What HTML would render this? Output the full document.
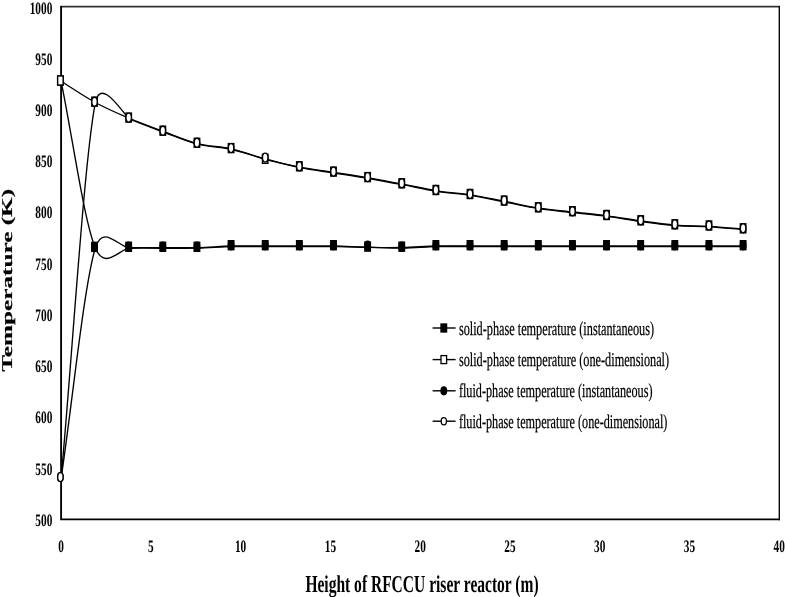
<!DOCTYPE html>
<html><head><meta charset="utf-8"><title>Temperature vs Height of RFCCU riser reactor</title>
<style>html,body{margin:0;padding:0;background:#fff;overflow:hidden}svg{display:block}</style></head>
<body>
<svg width="785" height="597" viewBox="0 0 785 597" text-rendering="geometricPrecision">
<rect width="785" height="597" fill="#fff"/>
<path d="M60.4 6.7H779.9" fill="none" stroke="#333" stroke-width="1.7"/>
<path d="M779.3 6V520.3" fill="none" stroke="#000" stroke-width="1.35"/>
<path d="M61.1 6.1V519.4H780" fill="none" stroke="#000" stroke-width="1.85"/>
<path transform="translate(0.7 0.8)" d="M60.40 80.50 C71.78 135.97 83.16 219.18 94.53 246.90 C103.85 269.60 117.67 249.80 128.67 246.80 C140.05 246.78 151.43 246.80 162.81 246.80 C174.18 246.80 185.56 247.07 196.94 246.80 C208.32 246.53 219.70 245.47 231.07 245.20 C242.45 244.93 253.83 245.20 265.21 245.20 C276.59 245.20 287.97 245.20 299.34 245.20 C310.72 245.20 322.10 244.97 333.48 245.20 C344.86 245.43 356.24 246.35 367.61 246.60 C378.99 246.85 390.37 246.93 401.75 246.70 C413.13 246.47 424.51 245.45 435.88 245.20 C447.26 244.95 458.64 245.20 470.02 245.20 C481.40 245.20 492.78 245.20 504.15 245.20 C515.53 245.20 526.91 245.20 538.29 245.20 C549.67 245.20 561.05 245.20 572.42 245.20 C583.80 245.20 595.18 245.20 606.56 245.20 C617.94 245.20 629.32 245.20 640.69 245.20 C652.07 245.20 663.45 245.20 674.83 245.20 C686.21 245.20 697.59 245.20 708.96 245.20 C720.34 245.20 731.72 245.20 743.10 245.20" fill="none" stroke="#000" stroke-width="1.35" stroke-linejoin="round"/>
<path transform="translate(0.7 0.8)" d="M60.40 80.50 C71.78 87.57 83.16 95.52 94.53 101.70 C105.91 107.88 117.29 112.77 128.67 117.60 C140.05 122.43 151.43 126.50 162.81 130.70 C174.18 134.90 185.56 139.90 196.94 142.80 C208.32 145.70 219.70 145.43 231.07 148.10 C242.45 150.77 253.83 155.77 265.21 158.80 C276.59 161.83 287.97 164.17 299.34 166.30 C310.72 168.43 322.10 169.80 333.48 171.60 C344.86 173.40 356.24 175.15 367.61 177.10 C378.99 179.05 390.37 181.15 401.75 183.30 C413.13 185.45 424.51 188.22 435.88 190.00 C447.26 191.78 458.64 192.23 470.02 194.00 C481.40 195.77 492.78 198.38 504.15 200.60 C515.53 202.82 526.91 205.53 538.29 207.30 C549.67 209.07 561.05 209.92 572.42 211.20 C583.80 212.48 595.18 213.48 606.56 215.00 C617.94 216.52 629.32 218.75 640.69 220.30 C652.07 221.85 663.45 223.43 674.83 224.30 C686.21 225.17 697.59 224.83 708.96 225.50 C720.34 226.17 731.72 227.37 743.10 228.30" fill="none" stroke="#000" stroke-width="1.35" stroke-linejoin="round"/>
<path transform="translate(0.7 1.4)" d="M60.40 477.10 C71.78 400.37 83.16 285.28 94.53 246.90 C101.80 222.39 116.67 244.30 128.67 246.80 C140.05 246.78 151.43 246.80 162.81 246.80 C174.18 246.80 185.56 247.07 196.94 246.80 C208.32 246.53 219.70 245.47 231.07 245.20 C242.45 244.93 253.83 245.20 265.21 245.20 C276.59 245.20 287.97 245.20 299.34 245.20 C310.72 245.20 322.10 245.12 333.48 245.20 C344.86 245.28 356.24 245.45 367.61 245.70 C378.99 245.95 390.37 246.78 401.75 246.70 C413.13 246.62 424.51 245.45 435.88 245.20 C447.26 244.95 458.64 245.20 470.02 245.20 C481.40 245.20 492.78 245.20 504.15 245.20 C515.53 245.20 526.91 245.20 538.29 245.20 C549.67 245.20 561.05 245.20 572.42 245.20 C583.80 245.20 595.18 245.20 606.56 245.20 C617.94 245.20 629.32 245.20 640.69 245.20 C652.07 245.20 663.45 245.20 674.83 245.20 C686.21 245.20 697.59 245.20 708.96 245.20 C720.34 245.20 731.72 245.20 743.10 245.20" fill="none" stroke="#000" stroke-width="1.35" stroke-linejoin="round"/>
<path transform="translate(0.7 1.4)" d="M60.40 477.10 C71.78 351.97 83.16 161.62 94.53 101.70 C99.67 74.67 121.67 111.10 128.67 117.60 C140.05 122.43 151.43 126.50 162.81 130.70 C174.18 134.90 185.56 139.90 196.94 142.80 C208.32 145.70 219.70 145.63 231.07 148.10 C242.45 150.57 253.83 154.57 265.21 157.60 C276.59 160.63 287.97 163.97 299.34 166.30 C310.72 168.63 322.10 169.80 333.48 171.60 C344.86 173.40 356.24 175.15 367.61 177.10 C378.99 179.05 390.37 181.15 401.75 183.30 C413.13 185.45 424.51 188.22 435.88 190.00 C447.26 191.78 458.64 192.23 470.02 194.00 C481.40 195.77 492.78 198.38 504.15 200.60 C515.53 202.82 526.91 205.53 538.29 207.30 C549.67 209.07 561.05 209.92 572.42 211.20 C583.80 212.48 595.18 213.48 606.56 215.00 C617.94 216.52 629.32 218.75 640.69 220.30 C652.07 221.85 663.45 223.43 674.83 224.30 C686.21 225.17 697.59 224.83 708.96 225.50 C720.34 226.17 731.72 227.37 743.10 228.30" fill="none" stroke="#000" stroke-width="1.35" stroke-linejoin="round"/>
<rect x="57.65" y="76.00" width="5.50" height="9.00" fill="#000" stroke="#000" stroke-width="1.4"/>
<rect x="91.78" y="242.40" width="5.50" height="9.00" fill="#000" stroke="#000" stroke-width="1.4"/>
<rect x="125.92" y="242.30" width="5.50" height="9.00" fill="#000" stroke="#000" stroke-width="1.4"/>
<rect x="160.06" y="242.30" width="5.50" height="9.00" fill="#000" stroke="#000" stroke-width="1.4"/>
<rect x="194.19" y="242.30" width="5.50" height="9.00" fill="#000" stroke="#000" stroke-width="1.4"/>
<rect x="228.32" y="240.70" width="5.50" height="9.00" fill="#000" stroke="#000" stroke-width="1.4"/>
<rect x="262.46" y="240.70" width="5.50" height="9.00" fill="#000" stroke="#000" stroke-width="1.4"/>
<rect x="296.59" y="240.70" width="5.50" height="9.00" fill="#000" stroke="#000" stroke-width="1.4"/>
<rect x="330.73" y="240.70" width="5.50" height="9.00" fill="#000" stroke="#000" stroke-width="1.4"/>
<rect x="364.86" y="242.10" width="5.50" height="9.00" fill="#000" stroke="#000" stroke-width="1.4"/>
<rect x="399.00" y="242.20" width="5.50" height="9.00" fill="#000" stroke="#000" stroke-width="1.4"/>
<rect x="433.13" y="240.70" width="5.50" height="9.00" fill="#000" stroke="#000" stroke-width="1.4"/>
<rect x="467.27" y="240.70" width="5.50" height="9.00" fill="#000" stroke="#000" stroke-width="1.4"/>
<rect x="501.40" y="240.70" width="5.50" height="9.00" fill="#000" stroke="#000" stroke-width="1.4"/>
<rect x="535.54" y="240.70" width="5.50" height="9.00" fill="#000" stroke="#000" stroke-width="1.4"/>
<rect x="569.67" y="240.70" width="5.50" height="9.00" fill="#000" stroke="#000" stroke-width="1.4"/>
<rect x="603.81" y="240.70" width="5.50" height="9.00" fill="#000" stroke="#000" stroke-width="1.4"/>
<rect x="637.94" y="240.70" width="5.50" height="9.00" fill="#000" stroke="#000" stroke-width="1.4"/>
<rect x="672.08" y="240.70" width="5.50" height="9.00" fill="#000" stroke="#000" stroke-width="1.4"/>
<rect x="706.21" y="240.70" width="5.50" height="9.00" fill="#000" stroke="#000" stroke-width="1.4"/>
<rect x="740.35" y="240.70" width="5.50" height="9.00" fill="#000" stroke="#000" stroke-width="1.4"/>
<rect x="57.65" y="76.00" width="5.50" height="9.00" fill="#fff" stroke="#000" stroke-width="1.4"/>
<rect x="91.78" y="97.20" width="5.50" height="9.00" fill="#fff" stroke="#000" stroke-width="1.4"/>
<rect x="125.92" y="113.10" width="5.50" height="9.00" fill="#fff" stroke="#000" stroke-width="1.4"/>
<rect x="160.06" y="126.20" width="5.50" height="9.00" fill="#fff" stroke="#000" stroke-width="1.4"/>
<rect x="194.19" y="138.30" width="5.50" height="9.00" fill="#fff" stroke="#000" stroke-width="1.4"/>
<rect x="228.32" y="143.60" width="5.50" height="9.00" fill="#fff" stroke="#000" stroke-width="1.4"/>
<rect x="262.46" y="154.30" width="5.50" height="9.00" fill="#fff" stroke="#000" stroke-width="1.4"/>
<rect x="296.59" y="161.80" width="5.50" height="9.00" fill="#fff" stroke="#000" stroke-width="1.4"/>
<rect x="330.73" y="167.10" width="5.50" height="9.00" fill="#fff" stroke="#000" stroke-width="1.4"/>
<rect x="364.86" y="172.60" width="5.50" height="9.00" fill="#fff" stroke="#000" stroke-width="1.4"/>
<rect x="399.00" y="178.80" width="5.50" height="9.00" fill="#fff" stroke="#000" stroke-width="1.4"/>
<rect x="433.13" y="185.50" width="5.50" height="9.00" fill="#fff" stroke="#000" stroke-width="1.4"/>
<rect x="467.27" y="189.50" width="5.50" height="9.00" fill="#fff" stroke="#000" stroke-width="1.4"/>
<rect x="501.40" y="196.10" width="5.50" height="9.00" fill="#fff" stroke="#000" stroke-width="1.4"/>
<rect x="535.54" y="202.80" width="5.50" height="9.00" fill="#fff" stroke="#000" stroke-width="1.4"/>
<rect x="569.67" y="206.70" width="5.50" height="9.00" fill="#fff" stroke="#000" stroke-width="1.4"/>
<rect x="603.81" y="210.50" width="5.50" height="9.00" fill="#fff" stroke="#000" stroke-width="1.4"/>
<rect x="637.94" y="215.80" width="5.50" height="9.00" fill="#fff" stroke="#000" stroke-width="1.4"/>
<rect x="672.08" y="219.80" width="5.50" height="9.00" fill="#fff" stroke="#000" stroke-width="1.4"/>
<rect x="706.21" y="221.00" width="5.50" height="9.00" fill="#fff" stroke="#000" stroke-width="1.4"/>
<rect x="740.35" y="223.80" width="5.50" height="9.00" fill="#fff" stroke="#000" stroke-width="1.4"/>
<ellipse cx="60.40" cy="477.10" rx="2.75" ry="4.50" fill="#000" stroke="#000" stroke-width="1.4"/>
<ellipse cx="94.53" cy="246.90" rx="2.75" ry="4.50" fill="#000" stroke="#000" stroke-width="1.4"/>
<ellipse cx="128.67" cy="246.80" rx="2.75" ry="4.50" fill="#000" stroke="#000" stroke-width="1.4"/>
<ellipse cx="162.81" cy="246.80" rx="2.75" ry="4.50" fill="#000" stroke="#000" stroke-width="1.4"/>
<ellipse cx="196.94" cy="246.80" rx="2.75" ry="4.50" fill="#000" stroke="#000" stroke-width="1.4"/>
<ellipse cx="231.07" cy="245.20" rx="2.75" ry="4.50" fill="#000" stroke="#000" stroke-width="1.4"/>
<ellipse cx="265.21" cy="245.20" rx="2.75" ry="4.50" fill="#000" stroke="#000" stroke-width="1.4"/>
<ellipse cx="299.34" cy="245.20" rx="2.75" ry="4.50" fill="#000" stroke="#000" stroke-width="1.4"/>
<ellipse cx="333.48" cy="245.20" rx="2.75" ry="4.50" fill="#000" stroke="#000" stroke-width="1.4"/>
<ellipse cx="367.61" cy="245.70" rx="2.75" ry="4.50" fill="#000" stroke="#000" stroke-width="1.4"/>
<ellipse cx="401.75" cy="246.70" rx="2.75" ry="4.50" fill="#000" stroke="#000" stroke-width="1.4"/>
<ellipse cx="435.88" cy="245.20" rx="2.75" ry="4.50" fill="#000" stroke="#000" stroke-width="1.4"/>
<ellipse cx="470.02" cy="245.20" rx="2.75" ry="4.50" fill="#000" stroke="#000" stroke-width="1.4"/>
<ellipse cx="504.15" cy="245.20" rx="2.75" ry="4.50" fill="#000" stroke="#000" stroke-width="1.4"/>
<ellipse cx="538.29" cy="245.20" rx="2.75" ry="4.50" fill="#000" stroke="#000" stroke-width="1.4"/>
<ellipse cx="572.42" cy="245.20" rx="2.75" ry="4.50" fill="#000" stroke="#000" stroke-width="1.4"/>
<ellipse cx="606.56" cy="245.20" rx="2.75" ry="4.50" fill="#000" stroke="#000" stroke-width="1.4"/>
<ellipse cx="640.69" cy="245.20" rx="2.75" ry="4.50" fill="#000" stroke="#000" stroke-width="1.4"/>
<ellipse cx="674.83" cy="245.20" rx="2.75" ry="4.50" fill="#000" stroke="#000" stroke-width="1.4"/>
<ellipse cx="708.96" cy="245.20" rx="2.75" ry="4.50" fill="#000" stroke="#000" stroke-width="1.4"/>
<ellipse cx="743.10" cy="245.20" rx="2.75" ry="4.50" fill="#000" stroke="#000" stroke-width="1.4"/>
<ellipse cx="60.40" cy="477.10" rx="2.75" ry="4.50" fill="#fff" stroke="#000" stroke-width="1.4"/>
<ellipse cx="94.53" cy="101.70" rx="2.75" ry="4.50" fill="#fff" stroke="#000" stroke-width="1.4"/>
<ellipse cx="128.67" cy="117.60" rx="2.75" ry="4.50" fill="#fff" stroke="#000" stroke-width="1.4"/>
<ellipse cx="162.81" cy="130.70" rx="2.75" ry="4.50" fill="#fff" stroke="#000" stroke-width="1.4"/>
<ellipse cx="196.94" cy="142.80" rx="2.75" ry="4.50" fill="#fff" stroke="#000" stroke-width="1.4"/>
<ellipse cx="231.07" cy="148.10" rx="2.75" ry="4.50" fill="#fff" stroke="#000" stroke-width="1.4"/>
<ellipse cx="265.21" cy="157.60" rx="2.75" ry="4.50" fill="#fff" stroke="#000" stroke-width="1.4"/>
<ellipse cx="299.34" cy="166.30" rx="2.75" ry="4.50" fill="#fff" stroke="#000" stroke-width="1.4"/>
<ellipse cx="333.48" cy="171.60" rx="2.75" ry="4.50" fill="#fff" stroke="#000" stroke-width="1.4"/>
<ellipse cx="367.61" cy="177.10" rx="2.75" ry="4.50" fill="#fff" stroke="#000" stroke-width="1.4"/>
<ellipse cx="401.75" cy="183.30" rx="2.75" ry="4.50" fill="#fff" stroke="#000" stroke-width="1.4"/>
<ellipse cx="435.88" cy="190.00" rx="2.75" ry="4.50" fill="#fff" stroke="#000" stroke-width="1.4"/>
<ellipse cx="470.02" cy="194.00" rx="2.75" ry="4.50" fill="#fff" stroke="#000" stroke-width="1.4"/>
<ellipse cx="504.15" cy="200.60" rx="2.75" ry="4.50" fill="#fff" stroke="#000" stroke-width="1.4"/>
<ellipse cx="538.29" cy="207.30" rx="2.75" ry="4.50" fill="#fff" stroke="#000" stroke-width="1.4"/>
<ellipse cx="572.42" cy="211.20" rx="2.75" ry="4.50" fill="#fff" stroke="#000" stroke-width="1.4"/>
<ellipse cx="606.56" cy="215.00" rx="2.75" ry="4.50" fill="#fff" stroke="#000" stroke-width="1.4"/>
<ellipse cx="640.69" cy="220.30" rx="2.75" ry="4.50" fill="#fff" stroke="#000" stroke-width="1.4"/>
<ellipse cx="674.83" cy="224.30" rx="2.75" ry="4.50" fill="#fff" stroke="#000" stroke-width="1.4"/>
<ellipse cx="708.96" cy="225.50" rx="2.75" ry="4.50" fill="#fff" stroke="#000" stroke-width="1.4"/>
<ellipse cx="743.10" cy="228.30" rx="2.75" ry="4.50" fill="#fff" stroke="#000" stroke-width="1.4"/>
<text transform="translate(52.3 525.9) scale(0.642 1)" text-anchor="end" font-family="Liberation Serif, serif" font-weight="bold" font-size="17.6">500</text>
<text transform="translate(52.3 474.6) scale(0.642 1)" text-anchor="end" font-family="Liberation Serif, serif" font-weight="bold" font-size="17.6">550</text>
<text transform="translate(52.3 423.4) scale(0.642 1)" text-anchor="end" font-family="Liberation Serif, serif" font-weight="bold" font-size="17.6">600</text>
<text transform="translate(52.3 372.1) scale(0.642 1)" text-anchor="end" font-family="Liberation Serif, serif" font-weight="bold" font-size="17.6">650</text>
<text transform="translate(52.3 320.8) scale(0.642 1)" text-anchor="end" font-family="Liberation Serif, serif" font-weight="bold" font-size="17.6">700</text>
<text transform="translate(52.3 269.5) scale(0.642 1)" text-anchor="end" font-family="Liberation Serif, serif" font-weight="bold" font-size="17.6">750</text>
<text transform="translate(52.3 218.3) scale(0.642 1)" text-anchor="end" font-family="Liberation Serif, serif" font-weight="bold" font-size="17.6">800</text>
<text transform="translate(52.3 167.0) scale(0.642 1)" text-anchor="end" font-family="Liberation Serif, serif" font-weight="bold" font-size="17.6">850</text>
<text transform="translate(52.3 115.7) scale(0.642 1)" text-anchor="end" font-family="Liberation Serif, serif" font-weight="bold" font-size="17.6">900</text>
<text transform="translate(52.3 64.5) scale(0.642 1)" text-anchor="end" font-family="Liberation Serif, serif" font-weight="bold" font-size="17.6">950</text>
<text transform="translate(52.3 14.1) scale(0.642 1)" text-anchor="end" font-family="Liberation Serif, serif" font-weight="bold" font-size="17.6">1000</text>
<text transform="translate(61.1 551.6) scale(0.642 1)" text-anchor="middle" font-family="Liberation Serif, serif" font-weight="bold" font-size="17.6">0</text>
<text transform="translate(150.9 551.6) scale(0.642 1)" text-anchor="middle" font-family="Liberation Serif, serif" font-weight="bold" font-size="17.6">5</text>
<text transform="translate(240.6 551.6) scale(0.642 1)" text-anchor="middle" font-family="Liberation Serif, serif" font-weight="bold" font-size="17.6">10</text>
<text transform="translate(330.4 551.6) scale(0.642 1)" text-anchor="middle" font-family="Liberation Serif, serif" font-weight="bold" font-size="17.6">15</text>
<text transform="translate(420.2 551.6) scale(0.642 1)" text-anchor="middle" font-family="Liberation Serif, serif" font-weight="bold" font-size="17.6">20</text>
<text transform="translate(509.9 551.6) scale(0.642 1)" text-anchor="middle" font-family="Liberation Serif, serif" font-weight="bold" font-size="17.6">25</text>
<text transform="translate(599.7 551.6) scale(0.642 1)" text-anchor="middle" font-family="Liberation Serif, serif" font-weight="bold" font-size="17.6">30</text>
<text transform="translate(689.4 551.6) scale(0.642 1)" text-anchor="middle" font-family="Liberation Serif, serif" font-weight="bold" font-size="17.6">35</text>
<text transform="translate(779.2 551.6) scale(0.642 1)" text-anchor="middle" font-family="Liberation Serif, serif" font-weight="bold" font-size="17.6">40</text>
<text transform="translate(422.0 591.8) scale(0.639 1)" text-anchor="middle" font-family="Liberation Serif, serif" font-weight="bold" font-size="24.3">Height of RFCCU riser reactor (m)</text>
<text transform="translate(12.0 280.3) rotate(-90) scale(1.008 0.60)" text-anchor="middle" font-family="Liberation Serif, serif" font-weight="bold" font-size="25" stroke="#000" stroke-width="0.3">Temperature (K)</text>
<line x1="432.6" x2="455.6" y1="328.0" y2="328.0" stroke="#000" stroke-width="1.4"/>
<rect x="441.00" y="324.00" width="5.60" height="8.00" fill="#000" stroke="#000" stroke-width="1.3"/>
<text transform="translate(458.9 334.5) scale(0.628 1)" font-family="Liberation Serif, serif" font-size="19.5" stroke="#000" stroke-width="0.25">solid-phase temperature (instantaneous)</text>
<line x1="432.6" x2="455.6" y1="359.6" y2="359.6" stroke="#000" stroke-width="1.4"/>
<rect x="441.00" y="355.60" width="5.60" height="8.00" fill="#fff" stroke="#000" stroke-width="1.3"/>
<text transform="translate(458.9 366.1) scale(0.628 1)" font-family="Liberation Serif, serif" font-size="19.5" stroke="#000" stroke-width="0.25">solid-phase temperature (one-dimensional)</text>
<line x1="432.6" x2="455.6" y1="390.8" y2="390.8" stroke="#000" stroke-width="1.4"/>
<ellipse cx="443.80" cy="390.80" rx="2.80" ry="4.00" fill="#000" stroke="#000" stroke-width="1.3"/>
<text transform="translate(458.9 397.3) scale(0.625 1)" font-family="Liberation Serif, serif" font-size="19.5" stroke="#000" stroke-width="0.25">fluid-phase temperature (instantaneous)</text>
<line x1="432.6" x2="455.6" y1="421.2" y2="421.2" stroke="#000" stroke-width="1.4"/>
<ellipse cx="443.80" cy="421.20" rx="2.65" ry="3.60" fill="#fff" stroke="#000" stroke-width="1.3"/>
<text transform="translate(458.9 427.7) scale(0.625 1)" font-family="Liberation Serif, serif" font-size="19.5" stroke="#000" stroke-width="0.25">fluid-phase temperature (one-dimensional)</text>
</svg>
</body></html>
